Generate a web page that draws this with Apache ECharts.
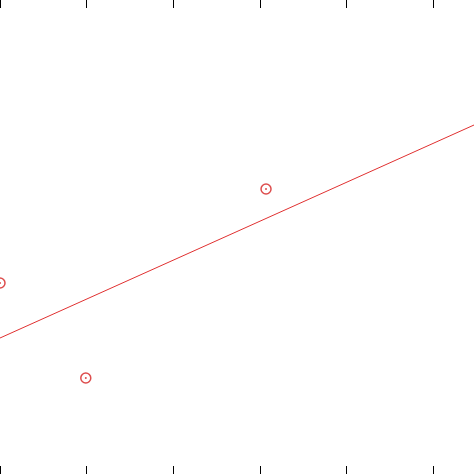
<!DOCTYPE html><html><head><meta charset="utf-8">
<script src="https://cdn.jsdelivr.net/npm/echarts@6/dist/echarts.min.js"></script>
<style>html,body{margin:0;background:#fff}#c{width:474px;height:474px}</style></head><body><div id="c"></div>
<script>
const pointsX=[0,0.99,3.07];
const pointsY=[191,96,285];
const lineX=[0,5.47];
const lineY=[136,349];
const c=echarts.init(document.getElementById('c'));
const tick={show:true,inside:true,length:8,lineStyle:{color:'#000',width:1}};
c.setOption({animation:false,
grid:{left:0,right:0,top:0,bottom:0},
xAxis:[{type:'value',min:0,max:5.47,interval:1,position:'bottom',axisLine:{show:false},axisTick:tick,axisLabel:{show:false},splitLine:{show:false}},
{type:'value',min:0,max:5.47,interval:1,position:'top',axisLine:{show:false},axisTick:tick,axisLabel:{show:false},splitLine:{show:false}}],
yAxis:{type:'value',min:0,max:474,show:false},
series:[
{type:'line',data:lineX.map((x,i)=>[x,lineY[i]]),symbol:'none',lineStyle:{color:'#e03030',width:1}},
{type:'scatter',data:pointsX.map((x,i)=>[x,pointsY[i]]),symbol:'circle',symbolSize:10,itemStyle:{color:'rgba(0,0,0,0)',borderColor:'#d42020',borderWidth:1.5}},
{type:'scatter',data:pointsX.map((x,i)=>[x,pointsY[i]]),symbol:'circle',symbolSize:2,itemStyle:{color:'#d42020'}}
]});
</script></body></html>
